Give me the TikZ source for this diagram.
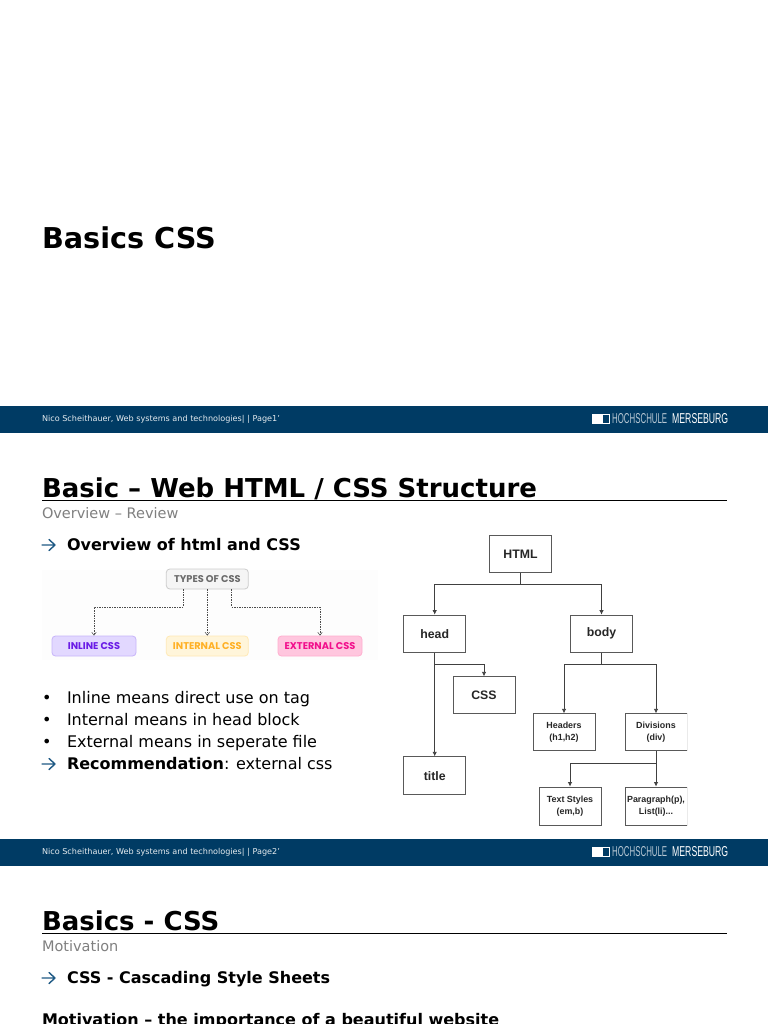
\documentclass[tikz,border=0pt]{standalone}
\usepackage{fontspec}
\usepackage{graphicx}
\setmainfont{DejaVu Sans}
\newfontfamily\boxfont{Liberation Sans}
\newfontfamily\badgefont{Poppins}
\usetikzlibrary{arrows.meta,calc}
\definecolor{barblue}{HTML}{003B64}
\definecolor{arrowblue}{HTML}{1F5A85}
\definecolor{subgrey}{HTML}{808080}
\definecolor{inlfill}{HTML}{E2D8FF}
\definecolor{inldraw}{HTML}{C7B4FA}
\definecolor{inltext}{HTML}{6A1BE6}
\definecolor{intfill}{HTML}{FFF5DA}
\definecolor{intdraw}{HTML}{FFE9B5}
\definecolor{inttext}{HTML}{FFB126}
\definecolor{extfill}{HTML}{FFC6DE}
\definecolor{extdraw}{HTML}{FFAFCF}
\definecolor{exttext}{HTML}{F20F8C}
\tikzset{
  x=1pt,y=-1pt,
  txt/.style={anchor=base west,inner sep=0pt,outer sep=0pt,text=black},
  bigtitle/.style={txt,font=\fontsize{28.7}{30}\selectfont\bfseries},
  maintitle/.style={txt,font=\fontsize{26}{30}\selectfont\bfseries},
  subtitle/.style={txt,font=\fontsize{14.5}{16}\selectfont,text=subgrey},
  bullettext/.style={txt,font=\fontsize{16}{18}\selectfont},
  boldtext/.style={txt,font=\fontsize{16}{18}\selectfont\bfseries},
  foot/.style={txt,font=\fontsize{8.1}{9}\selectfont,text=white!90!barblue},
  logotext/.style={anchor=base west,inner sep=0pt,font=\boxfont\fontsize{14}{16}\selectfont},
  arrowmark/.style={arrowblue,line width=1.4pt,line cap=round,line join=round},
  treebox/.style={draw=black!65,line width=.9pt,fill=white,minimum width=62pt,align=center,inner sep=0pt,font=\boxfont\bfseries\fontsize{12.3}{13}\selectfont,text=black!85},
  smallbox/.style={treebox,font=\boxfont\bfseries\fontsize{8.9}{11.5}\selectfont},
  treeline/.style={draw=black!75,line width=.8pt},
  treearrow/.style={treeline,-{Latex[length=4.5pt,width=4.5pt]}},
  dashline/.style={draw=black!70,line width=.5pt,dash pattern=on 1.5pt off 1pt,-{Straight Barb[length=3pt,width=4.5pt]}},
  badge/.style={rounded corners=3.5pt,line width=.8pt,minimum height=20pt,inner sep=0pt,font=\badgefont\bfseries\fontsize{9.8}{10}\selectfont},
}
\begin{document}
\begin{tikzpicture}
\useasboundingbox (0,0) rectangle (768,1024);
\clip (0,0) rectangle (768,1024);
\fill[white] (0,0) rectangle (768,1024);

% page 1
\node[bigtitle] (t1) at (42,248.5) {Basics CSS};
\fill[barblue] (0,406) rectangle (768,433);
\node[foot] (f1) at (42,421) {Nico Scheithauer, Web systems and technologies| | Page1'};
\fill[white] (591.5,414) rectangle (610,424);
\fill[barblue] (603,415) rectangle (609,423);
\node[logotext,text=white!72!barblue] (l1) at (612,423.5) {\resizebox{55pt}{10pt}{HOCHSCHULE}};
\node[logotext,text=white] (m1) at (672,423.5) {\resizebox{56pt}{10pt}{MERSEBURG}};

% page 2
\node[maintitle] (t2) at (42,497) {Basic – Web HTML / CSS Structure};
\draw[black,line width=.8pt] (42,500.5) -- (727,500.5);
\node[subtitle] (s2) at (42,518) {Overview – Review};

\draw[arrowmark] (42,545) -- (54.5,545) (49,539.5) -- (55,545) -- (49,550.5);
\node[boldtext] (o1) at (67,550) {Overview of html and CSS};

% types of css
\fill[black!.8] (42,570) rectangle (378,660);
\node[badge,draw=black!20,fill=black!4,text=black!58,minimum width=82pt] (types) at (207.3,579) {TYPES OF CSS};
\node[badge,draw=inldraw,fill=inlfill,text=inltext,minimum width=84pt] (inl) at (94,646) {INLINE CSS};
\node[badge,draw=intdraw,fill=intfill,text=inttext,minimum width=82pt] (int) at (207.3,646) {INTERNAL CSS};
\node[badge,draw=extdraw,fill=extfill,text=exttext,minimum width=84pt] (ext) at (320,646) {EXTERNAL CSS};
\coordinate (tl) at ($(types.south)+(-24.3,0)$);
\coordinate (tr) at ($(types.south)+(24.3,0)$);
\draw[dashline] (tl) -- ++(0,17.5) -| (inl.north);
\draw[dashline] (types.south) -- (int.north);
\draw[dashline] (tr) -- ++(0,17.5) -| (ext.north);

\node[bullettext] (b1) at (42,703) {•};
\node[bullettext] (b1t) at (67,703) {Inline means direct use on tag};
\node[bullettext] (b2) at (42,725) {•};
\node[bullettext] (b2t) at (67,725) {Internal means in head block};
\node[bullettext] (b3) at (42,747) {•};
\node[bullettext] (b3t) at (67,747) {External means in seperate file};
\draw[arrowmark] (42,764) -- (54.5,764) (49,758.5) -- (55,764) -- (49,769.5);
\node[bullettext] (b4t) at (67,769) {\textbf{Recommendation}: external css};

% tree
\begin{scope}
\clip (380,520) rectangle (687,838);
\node[treebox,minimum height=37pt] (html) at (520.5,553.8) {HTML};
\node[treebox,minimum height=37pt] (head) at (434.7,633.6) {head};
\node[treebox,minimum height=37pt] (body) at (601.5,633.6) {body};
\node[treebox,minimum height=37pt] (css) at (484,695.3) {CSS};
\node[treebox,minimum height=38pt] (title) at (434.7,775.8) {title};
\node[smallbox,minimum height=37pt] (hdrs) at (564,732.3) {Headers\\(h1,h2)};
\node[smallbox,minimum height=37pt] (divs) at (656,732.3) {Divisions\\(div)};
\node[smallbox,minimum height=38pt] (txts) at (570,806) {Text Styles\\(em,b)};
\node[smallbox,minimum height=38pt] (para) at (656,806) {Paragraph(p),\\List(li)...};
\coordinate (j1) at (520.5,584);
\coordinate (j2) at (434.7,664);
\coordinate (j3) at (601.5,664);
\coordinate (j4) at (656,763);
\draw[treeline] (html.south) -- (j1);
\draw[treearrow] (j1) -| (head.north);
\draw[treearrow] (j1) -| (body.north);
\draw[treearrow] (head.south) -- (title.north);
\draw[treearrow] (j2) -| (css.north);
\draw[treeline] (body.south) -- (j3);
\draw[treearrow] (j3) -| (hdrs.north);
\draw[treearrow] (j3) -| (divs.north);
\draw[treearrow] (divs.south) -- (para.north);
\draw[treearrow] (j4) -| (txts.north);
\end{scope}

\fill[barblue] (0,839) rectangle (768,866);
\node[foot] (f2) at (42,854) {Nico Scheithauer, Web systems and technologies| | Page2'};
\fill[white] (591.5,847) rectangle (610,857);
\fill[barblue] (603,848) rectangle (609,856);
\node[logotext,text=white!72!barblue] (l2) at (612,856.5) {\resizebox{55pt}{10pt}{HOCHSCHULE}};
\node[logotext,text=white] (m2) at (672,856.5) {\resizebox{56pt}{10pt}{MERSEBURG}};

% page 3
\node[maintitle] (t3) at (42,930) {Basics - CSS};
\draw[black,line width=.8pt] (42,933.5) -- (727,933.5);
\node[subtitle] (s3) at (42,951) {Motivation};
\draw[arrowmark] (42,978) -- (54.5,978) (49,972.5) -- (55,978) -- (49,983.5);
\node[boldtext] (o3) at (67,983) {CSS - Cascading Style Sheets};
\node[boldtext] (o4) at (42,1025) {Motivation – the importance of a beautiful website};
\end{tikzpicture}
\end{document}
